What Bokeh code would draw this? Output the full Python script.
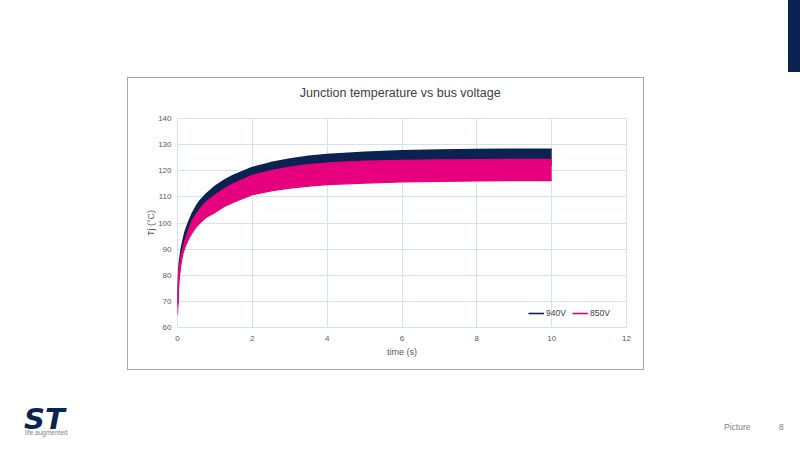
from bokeh.plotting import figure
from bokeh.layouts import column
from bokeh.models import Range1d, Legend, LegendItem, FixedTicker, InlineStyleSheet, Div
from bokeh.embed import file_html
from bokeh.resources import INLINE

# ---- data (envelopes of the rippling Tj traces) ----
time_s = [0, 0.01, 0.02, 0.03, 0.05, 0.1, 0.15, 0.2, 0.3, 0.4, 0.5, 0.6, 0.75,
          1, 1.25, 1.5, 2, 2.5, 3, 3.5, 4, 5, 6, 7, 8, 9, 10]
tj_940_max = [69, 75, 78.5, 81, 85, 90, 93.5, 96.5, 100.5, 103.8, 106.4, 108.5, 110.9,
              114, 116.4, 118.3, 121.2, 123.1, 124.5, 125.5, 126.2, 127.1, 127.6, 127.9, 128.1, 128.2, 128.2]
tj_940_min = [67, 72, 75.5, 78, 82, 87, 90.5, 93.5, 97.5, 100.5, 103, 105, 107.2,
              109.8, 112, 113.8, 116.6, 118.3, 119.5, 120.2, 120.7, 121.2, 121.5, 121.7, 121.8, 121.9, 121.9]
tj_850_max = [68, 74, 77.5, 80, 83, 87.5, 90.5, 93, 97.5, 101, 103.3, 105.3, 107.8,
              110.6, 113, 115, 118.2, 120, 121.3, 122.3, 122.9, 123.6, 123.9, 124.1, 124.2, 124.3, 124.3]
tj_850_min = [65, 69, 72, 75, 79.5, 85, 88.5, 90.8, 94, 96.5, 98.5, 100, 102,
              104, 106.3, 108, 110.8, 112.3, 113.3, 114.1, 114.7, 115.3, 115.7, 115.9, 116.1, 116.2, 116.2]
x_ticks = [0, 2, 4, 6, 8, 10, 12]
y_ticks = [60, 70, 80, 90, 100, 110, 120, 130, 140]
series_labels = ["940V", "850V"]
footer_texts = ["ST", "life.augmented", "Picture", "8"]

NAVY = "#0b2350"
PINK = "#e6007e"
GRID = "#d9e1ee"
TXT = "#595959"
FONT = "Liberation Sans"

W = 784
H_CHART, H_FOOT = 400, 34
BL, BR, BT, BB = 177, 158, 118, 73

p = figure(width=W, height=H_CHART, output_backend="svg", toolbar_location=None,
           x_range=Range1d(0, 12), y_range=Range1d(60, 140),
           min_border_left=BL, min_border_right=BR,
           min_border_top=BT, min_border_bottom=BB)
p.background_fill_color = "white"
p.border_fill_color = "white"
p.outline_line_color = GRID

# chart box border and slide accent bar drawn as page styling
p.stylesheets = [InlineStyleSheet(css="""
:host::after { content: ""; position: absolute; left: 127px; top: 77px;
  width: 517px; height: 293px; border: 1px solid #a6a6a6;
  pointer-events: none; z-index: 10; }
:host::before { content: ""; position: absolute; left: 788px; top: 0px;
  width: 12px; height: 72px; background: #0b2350;
  pointer-events: none; z-index: 10; }
""")]

p.title.text = "Junction temperature vs  bus voltage"
p.title.align = "center"
p.title.text_font = FONT
p.title.text_font_size = "12.5px"
p.title.text_font_style = "normal"
p.title.text_color = "#404040"
p.title.standoff = 37

p.xaxis.ticker = FixedTicker(ticks=x_ticks)
p.yaxis.ticker = FixedTicker(ticks=y_ticks)
for ax in (p.xaxis[0], p.yaxis[0]):
    ax.axis_line_color = None
    ax.major_tick_line_color = None
    ax.minor_tick_line_color = None
    ax.major_tick_out = 0
    ax.major_tick_in = 0
    ax.minor_tick_out = 0
    ax.minor_tick_in = 0
    ax.major_label_text_font = FONT
    ax.major_label_text_font_size = "8px"
    ax.major_label_text_color = TXT
    ax.axis_label_text_font = FONT
    ax.axis_label_text_font_size = "9px"
    ax.axis_label_text_font_style = "normal"
    ax.axis_label_text_color = TXT
p.xaxis.major_label_standoff = 8
p.yaxis.major_label_standoff = 6
p.xaxis.axis_label = "time (s)"
p.xaxis.axis_label_standoff = 3
p.yaxis.axis_label = "Tj (°C)"
p.yaxis.axis_label_standoff = -1
p.xgrid.grid_line_color = GRID
p.ygrid.grid_line_color = GRID

p.varea(x=time_s, y1=tj_940_min, y2=tj_940_max, fill_color=NAVY)
l940 = p.line(time_s, tj_940_max, line_color=NAVY, line_width=1.6)
p.varea(x=time_s, y1=tj_850_min, y2=tj_850_max, fill_color=PINK)
l850 = p.line(time_s, tj_850_max, line_color=PINK, line_width=1.6)
p.line(time_s, tj_850_min, line_color=PINK, line_width=1.2)

legend = Legend(items=[LegendItem(label=series_labels[0], renderers=[l940]),
                       LegendItem(label=series_labels[1], renderers=[l850])],
                orientation="horizontal", location=(351, 9),
                glyph_width=16, glyph_height=10, label_height=10,
                label_standoff=2, spacing=6, padding=0, margin=0,
                border_line_color=None, background_fill_alpha=0,
                label_text_font=FONT, label_text_font_size="8.5px",
                label_text_color="#404040")
p.add_layout(legend)

# ---- slide footer strip (HTML text, positioned in page pixels) ----
span = ('<span style="position:absolute;left:{x}px;top:{y}px;line-height:1;'
        'white-space:nowrap;font-family:{font};font-size:{size}px;'
        'font-weight:{weight};font-style:{style};color:{color};">{t}</span>')
footer_html = (
    '<div style="position:relative;width:{w}px;height:{h}px;overflow:visible;">'.format(w=W, h=H_FOOT)
    + span.format(x=24, y=5, font="'DejaVu Sans'", size=29, weight="bold", style="italic",
                  color=NAVY, t=footer_texts[0])
    + span.format(x=25, y=30, font="'Liberation Sans'", size=6.5, weight="normal", style="normal",
                  color="#7f7f7f", t=footer_texts[1])
    + span.format(x=724, y=22.5, font="'Liberation Sans'", size=8.5, weight="normal", style="normal",
                  color="#7f7f7f", t=footer_texts[2])
    + span.format(x=779, y=22.5, font="'Liberation Sans'", size=8.5, weight="normal", style="normal",
                  color="#7f7f7f", t=footer_texts[3])
    + '</div>'
)
footer = Div(text=footer_html, width=W, height=H_FOOT, margin=(0, 0, 0, 0),
             styles={"overflow": "visible"})

layout = column(p, footer, spacing=0)
open("out.html", "w").write(file_html(layout, INLINE))
